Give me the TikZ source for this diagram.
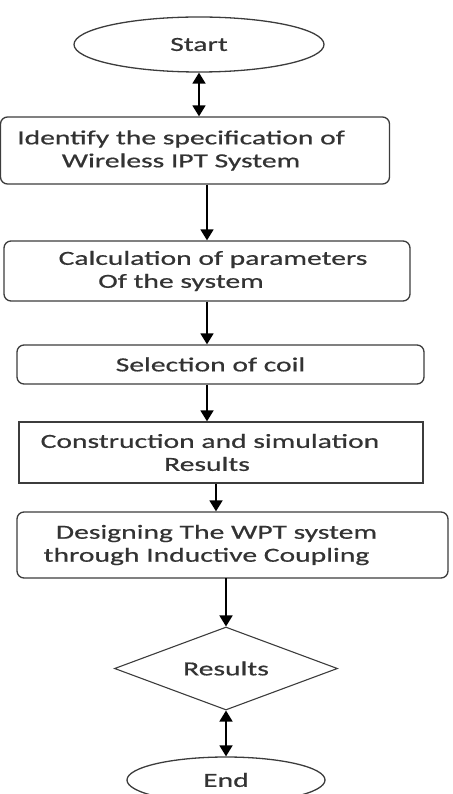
\documentclass[tikz,border=0pt]{standalone}
\usepackage{fontspec}
\setmainfont{Carlito}[FakeStretch=1.48,FakeBold=0.6]
\usetikzlibrary{shapes.geometric,arrows.meta}

\definecolor{edge}{HTML}{3C3C3C}
\definecolor{ink}{HTML}{333333}

\begin{document}
\begin{tikzpicture}[x=1pt,y=-1pt,
    every node/.style={text=ink,font=\fontsize{20}{23}\selectfont,align=center,inner sep=0pt},
    terminal/.style={draw=edge,line width=1.3pt,ellipse},
    stepbox/.style={draw=edge,line width=1.3pt,rounded corners=7pt},
    plainbox/.style={draw=edge,line width=1.3pt},
    decision/.style={draw=edge,line width=1.1pt,diamond,aspect=2.7},
    flow/.style={line width=1.8pt,-{Triangle[width=13pt,length=11pt]}},
    twoway/.style={line width=1.8pt,{Triangle[width=13pt,length=11pt]}-{Triangle[width=13pt,length=11pt]}}]
    \useasboundingbox (0,0) rectangle (452,794);
    % nodes
    \node[terminal,minimum width=250,minimum height=55] (start) at (199,44.5) {Start};
    \node[stepbox,minimum width=389,minimum height=67] (spec) at (195,150.5)
        {Identify the specification of\hspace*{28pt}\\Wireless IPT System\hspace*{28pt}};
    \node[stepbox,minimum width=406,minimum height=60] (calc) at (207,271)
        {\hspace*{12pt}Calculation of parameters\\Of the system\hspace*{52pt}};
    \node[stepbox,minimum width=407,minimum height=39] (coil) at (220.5,364.5)
        {Selection of coil\hspace*{20pt}};
    \node[plainbox,minimum width=404,minimum height=61] (cons) at (221,452.5)
        {Construction and simulation\hspace*{22pt}\\Results\hspace*{28pt}};
    \node[stepbox,minimum width=431,minimum height=66] (wpt) at (232.5,545)
        {Designing The WPT system\hspace*{32pt}\\through Inductive Coupling\hspace*{52pt}};
    \node[decision,minimum width=223,minimum height=83] (check) at (226,668.5) {Results};
    \node[terminal,minimum width=198,minimum height=46] (stop) at (226,780) {End};
    \coordinate (wptout) at (226,578);
    % connectors
    \draw[twoway] (start.south) -- (start.south |- spec.north);
    \draw[flow] (spec.south -| calc.north) -- (calc.north);
    \draw[flow] (calc.south) -- (calc.south |- coil.north);
    \draw[flow] (coil.south -| calc.south) -- (cons.north -| calc.south);
    \draw[flow] (cons.south -| 216,0) -- (wpt.north -| 216,0);
    \draw[flow] (wptout) -- (check.north);
    \draw[twoway] (check.south) -- (stop.north);
\end{tikzpicture}
\end{document}
